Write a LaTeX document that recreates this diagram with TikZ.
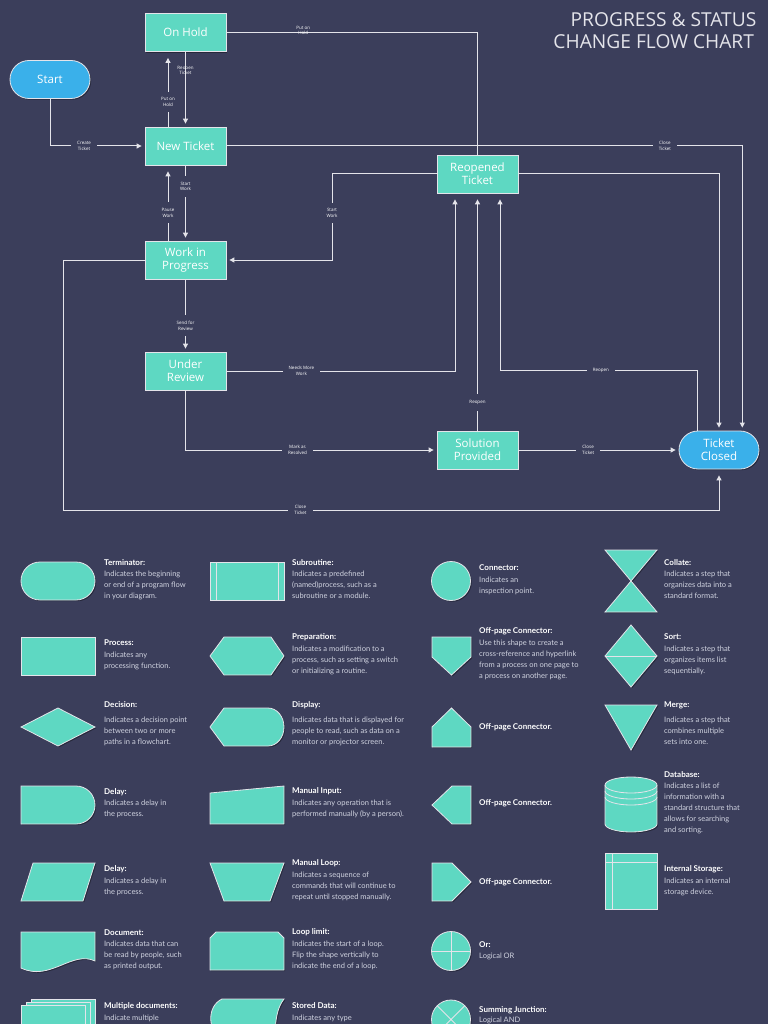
\documentclass[tikz,border=0pt]{standalone}
\usepackage{fontspec}
\setmainfont{Open Sans}
\newfontfamily\lato{Lato}
\usetikzlibrary{arrows.meta,shadows,calc}
\definecolor{bg}{RGB}{59,62,91}
\definecolor{tealc}{RGB}{94,216,194}
\definecolor{bluec}{RGB}{58,176,234}
\definecolor{edgec}{RGB}{228,228,234}
\definecolor{descc}{RGB}{208,211,224}
\tikzset{
 shad/.style={drop shadow={shadow xshift=1.2pt,shadow yshift=-1.2pt,opacity=0.35,fill=black}},
 proc/.style={draw=edgec, line width=0.8pt, fill=tealc, minimum width=81pt, minimum height=38pt, inner sep=0pt, text=white, align=center, font=\fontsize{11.5}{13}\selectfont, shad},
 term/.style={proc, fill=bluec, rounded corners=19pt, minimum width=80pt},
 conn/.style={draw=edgec, line width=1pt},
 arr/.style={conn, -{Triangle[width=5pt,length=5pt]}, shorten >=3pt},
 arrup/.style={arr, shorten >=6pt},
 lbl/.style={fill=bg, text=white, font=\fontsize{4.5}{5.5}\selectfont, align=center, inner sep=6pt},
 lblc/.style={lbl, fill=none, inner sep=1pt},
 hdr/.style={text=edgec, font=\fontsize{19.2}{22}\selectfont, inner sep=0pt},
 lg/.style={fill=tealc, draw=edgec, line width=0.8pt, shad},
 lgline/.style={draw=edgec, line width=0.8pt},
 lgtitle/.style={anchor=west, inner sep=0pt, text=white, font=\lato\bfseries\fontsize{8}{10}\selectfont},
 lgdesc/.style={anchor=north west, inner sep=0pt, text=descc, align=left, font=\lato\fontsize{7.5}{11}\selectfont},
}
\newcommand\lgent[6]{%
 \node[lgtitle] (#1t) at (#2,#3) {#4};
 \node[lgdesc] (#1d) at (#2,#5) {#6};}
\begin{document}
\begin{tikzpicture}[x=1pt,y=-1pt]
\fill[bg] (0,0) rectangle (768,1024);
\useasboundingbox (0,0) rectangle (768,1024);
\clip (0,0) rectangle (768,1024);

% title
\node[hdr] (title1) at (663.5,20) {PROGRESS \& STATUS};
\node[hdr] (title2) at (653.7,41.5) {CHANGE FLOW CHART};

% nodes
\node[proc] (onhold) at (185.5,32.5) {On Hold};
\node[term] (start) at (50,79.5) {Start};
\node[proc] (newt) at (185.5,146) {New Ticket};
\node[proc] (wip) at (185.5,260) {Work in\\Progress};
\node[proc] (ur) at (185.5,371) {Under\\Review};
\node[proc] (reop) at (477.5,174) {Reopened\\Ticket};
\node[proc] (solp) at (477.5,450) {Solution\\Provided};
\node[term] (tclosed) at (719,450) {Ticket\\Closed};

% connectors
\draw[arr] (start.south) |- (newt.west) node[lbl,pos=0.68]{Create\\Ticket};
\draw[arrup] ([xshift=-17.5pt]newt.north) -- ([xshift=-17.5pt]onhold.south) node[lbl,pos=0.33]{Put on\\Hold};
\draw[arr] (onhold.south) -- (newt.north) node[lblc,pos=0.25]{Reopen\\Ticket};
\draw[conn] (onhold.east) -| (reop.north) node[lblc,pos=0.153,yshift=2pt]{Put on\\Hold};
\draw[arr] (newt.east) -| ([xshift=23.3pt]tclosed.north) node[lbl,pos=0.425]{Close\\Ticket};
\draw[arr] (reop.east) -| (tclosed.north);
\coordinate (swk) at (332,260);
\draw[arr] (reop.west) -| (swk) node[lbl,pos=0.727]{Start\\Work} -- (wip.east);
\draw[arr] (newt.south) -- (wip.north) node[lbl,pos=0.28]{Start\\Work};
\draw[arrup] ([xshift=-17.5pt]wip.north) -- ([xshift=-17.5pt]newt.south) node[lbl,pos=0.37]{Pause\\Work};
\coordinate (clb) at (63,510);
\draw[arrup] (wip.west) -| (clb) -| (tclosed.south) node[lbl,pos=0.181]{Close\\Ticket};
\draw[arr] (wip.south) -- (ur.north) node[lbl,pos=0.64]{Send for\\Review};
\draw[arrup] (ur.east) -| ([xshift=-22.5pt]reop.south) node[lbl,pos=0.164]{Needs More\\Work};
\draw[arr] (ur.south) |- (solp.west) node[lbl,pos=0.723]{Mark as\\Resolved};
\draw[arrup] (solp.north) -- (reop.south) node[lbl,pos=0.118]{Reopen};
\draw[arr] (solp.east) -- (tclosed.west) node[lbl,pos=0.435]{Close\\Ticket};
\draw[arrup] ([xshift=-22pt]tclosed.north) -- ++(0,-60) -| ([xshift=22.5pt]reop.south) node[lbl,pos=0.244]{Reopen};

% ---------------- legend shapes ----------------
% column 1
\path[lg, rounded corners=19pt] (21,562) rectangle (95,600);
\path[lg] (21,637) rectangle (95,675);
\path[lg] (21,727) -- (58,708) -- (95,727) -- (58,746) -- cycle;
\path[lg] (21,786) -- (76,786) arc[start angle=90,end angle=-90,radius=19pt] -- (21,824) -- cycle;
\path[lg] (33,863) -- (95,863) -- (83,901) -- (21,901) -- cycle;
\path[lg] (21,932) -- (95,932) -- (95,961) .. controls (72,950) and (50,982) .. (21,968) -- cycle;
\path[lg] (31,999) rectangle (95,1040);
\path[lg] (26,1002) rectangle (90,1040);
\path[lg] (21,1005) rectangle (85,1040);
% column 2
\path[lg] (210,562) rectangle (284,600);
\draw[lgline] (216,562) -- (216,600) (278.5,562) -- (278.5,600);
\path[lg] (210,656) -- (224,637) -- (271,637) -- (284,656) -- (271,675) -- (224,675) -- cycle;
\path[lg] (210,727) -- (224,708) -- (268,708) arc[start angle=90,end angle=-90,x radius=16pt,y radius=19pt] -- (224,746) -- cycle;
\path[lg] (210,793) -- (284,786) -- (284,824) -- (210,824) -- cycle;
\path[lg] (210,863) -- (284,863) -- (270,901) -- (224,901) -- cycle;
\path[lg] (210,970) -- (210,938) -- (216,932) -- (278,932) -- (284,938) -- (284,970) -- cycle;
\path[lg] (222,999) -- (284,999) .. controls (277,1008) and (275,1020) .. (275,1040) -- (222,1040) .. controls (207,1030) and (207,1006) .. (222,999) -- cycle;
% column 3
\path[lg] (451,581) circle[radius=19.5pt];
\path[lg] (432,637) -- (471,637) -- (471,657) -- (451.5,675) -- (432,657) -- cycle;
\path[lg] (451.5,708) -- (471,727) -- (471,747) -- (432,747) -- (432,727) -- cycle;
\path[lg] (432,805) -- (452,786) -- (471,786) -- (471,824) -- (452,824) -- cycle;
\path[lg] (432,863) -- (452,863) -- (471,882) -- (452,901) -- (432,901) -- cycle;
\path[lg] (451,951) circle[radius=19.5pt];
\draw[lgline] (431.5,951) -- (470.5,951) (451,931.5) -- (451,970.5);
\path[lg] (451,1019.5) circle[radius=19.5pt];
\draw[lgline] (437.2,1005.7) -- (464.8,1033.3) (464.8,1005.7) -- (437.2,1033.3);
% column 4
\path[lg] (605,550) -- (657,550) -- (631,581) -- cycle;
\path[lg] (631,581) -- (657,612) -- (605,612) -- cycle;
\path[lg] (631,625) -- (657,656) -- (631,687) -- (605,656) -- cycle;
\draw[lgline] (605,656) -- (657,656);
\path[lg] (605,705) -- (657,705) -- (631,750) -- cycle;
\path[lg] (605,785) -- (605,824) arc[start angle=180,end angle=360,x radius=26pt,y radius=8pt] -- (657,785) arc[start angle=0,end angle=180,x radius=26pt,y radius=8pt] -- cycle;
\draw[lgline] (605,785) arc[start angle=180,end angle=360,x radius=26pt,y radius=8pt];
\draw[lgline] (605,791) arc[start angle=180,end angle=360,x radius=26pt,y radius=8pt];
\draw[lgline] (605,797) arc[start angle=180,end angle=360,x radius=26pt,y radius=8pt];
\path[lg] (605,853) rectangle (657,909);
\draw[lgline] (612,853) -- (612,909) (605,862) -- (657,862);

% ---------------- legend texts ----------------
\lgent{term}{104}{563}{Terminator:}{571}{Indicates the beginning\\or end of a program flow\\in your diagram.}
\lgent{proc}{104}{643}{Process:}{652}{Indicates any\\processing function.}
\lgent{dec}{104}{705}{Decision:}{717}{Indicates a decision point\\between two or more\\paths in a flowchart.}
\lgent{dela}{104}{792}{Delay:}{800}{Indicates a delay in\\the process.}
\lgent{delb}{104}{869}{Delay:}{877.5}{Indicates a delay in\\the process.}
\lgent{doc}{104}{932.5}{Document:}{940.5}{Indicates data that can\\be read by people, such\\as printed output.}
\lgent{mdoc}{104}{1006}{Multiple documents:}{1014.5}{Indicate multiple}

\lgent{sub}{292}{563}{Subroutine:}{571}{Indicates a predefined\\(named)process, such as a\\subroutine or a module.}
\lgent{prep}{292}{637}{Preparation:}{646}{Indicates a modification to a\\process, such as setting a switch\\or initializing a routine.}
\lgent{disp}{292}{705}{Display:}{717}{Indicates data that is displayed for\\people to read, such as data on a\\monitor or projector screen.}
\lgent{mi}{292}{791}{Manual Input:}{800}{Indicates any operation that is\\performed manually (by a person).}
\lgent{ml}{292}{863}{Manual Loop:}{872}{Indicates a sequence of\\commands that will continue to\\repeat until stopped manually.}
\lgent{ll}{292}{932.5}{Loop limit:}{941}{Indicates the start of a loop.\\Flip the shape vertically to\\indicate the end of a loop.}
\lgent{sd}{292}{1006}{Stored Data:}{1014.5}{Indicates any type}

\lgent{con}{479}{568}{Connector:}{577}{Indicates an\\inspection point.}
\lgent{opc}{479}{631.5}{Off-page Connector:}{640}{Use this shape to create a\\cross-reference and hyperlink\\from a process on one page to\\a process on another page.}
\node[lgtitle] (opu) at (479,727) {Off-page Connector.};
\node[lgtitle] (opl) at (479,803.5) {Off-page Connector.};
\node[lgtitle] (opr) at (479,882) {Off-page Connector.};
\lgent{or}{479}{945}{Or:}{953}{Logical OR}
\lgent{sj}{479}{1010.5}{Summing Junction:}{1016.5}{Logical AND}

\lgent{col}{664}{563}{Collate:}{571}{Indicates a step that\\organizes data into a\\standard format.}
\lgent{sort}{664}{637}{Sort:}{645.5}{Indicates a step that\\organizes items list\\sequentially.}
\lgent{mer}{664}{705}{Merge:}{716.5}{Indicates a step that\\combines multiple\\sets into one.}
\lgent{db}{664}{775}{Database:}{783}{Indicates a list of\\information with a\\standard structure that\\allows for searching\\and sorting.}
\lgent{is}{664}{869}{Internal Storage:}{877.5}{Indicates an internal\\storage device.}
\end{tikzpicture}
\end{document}
